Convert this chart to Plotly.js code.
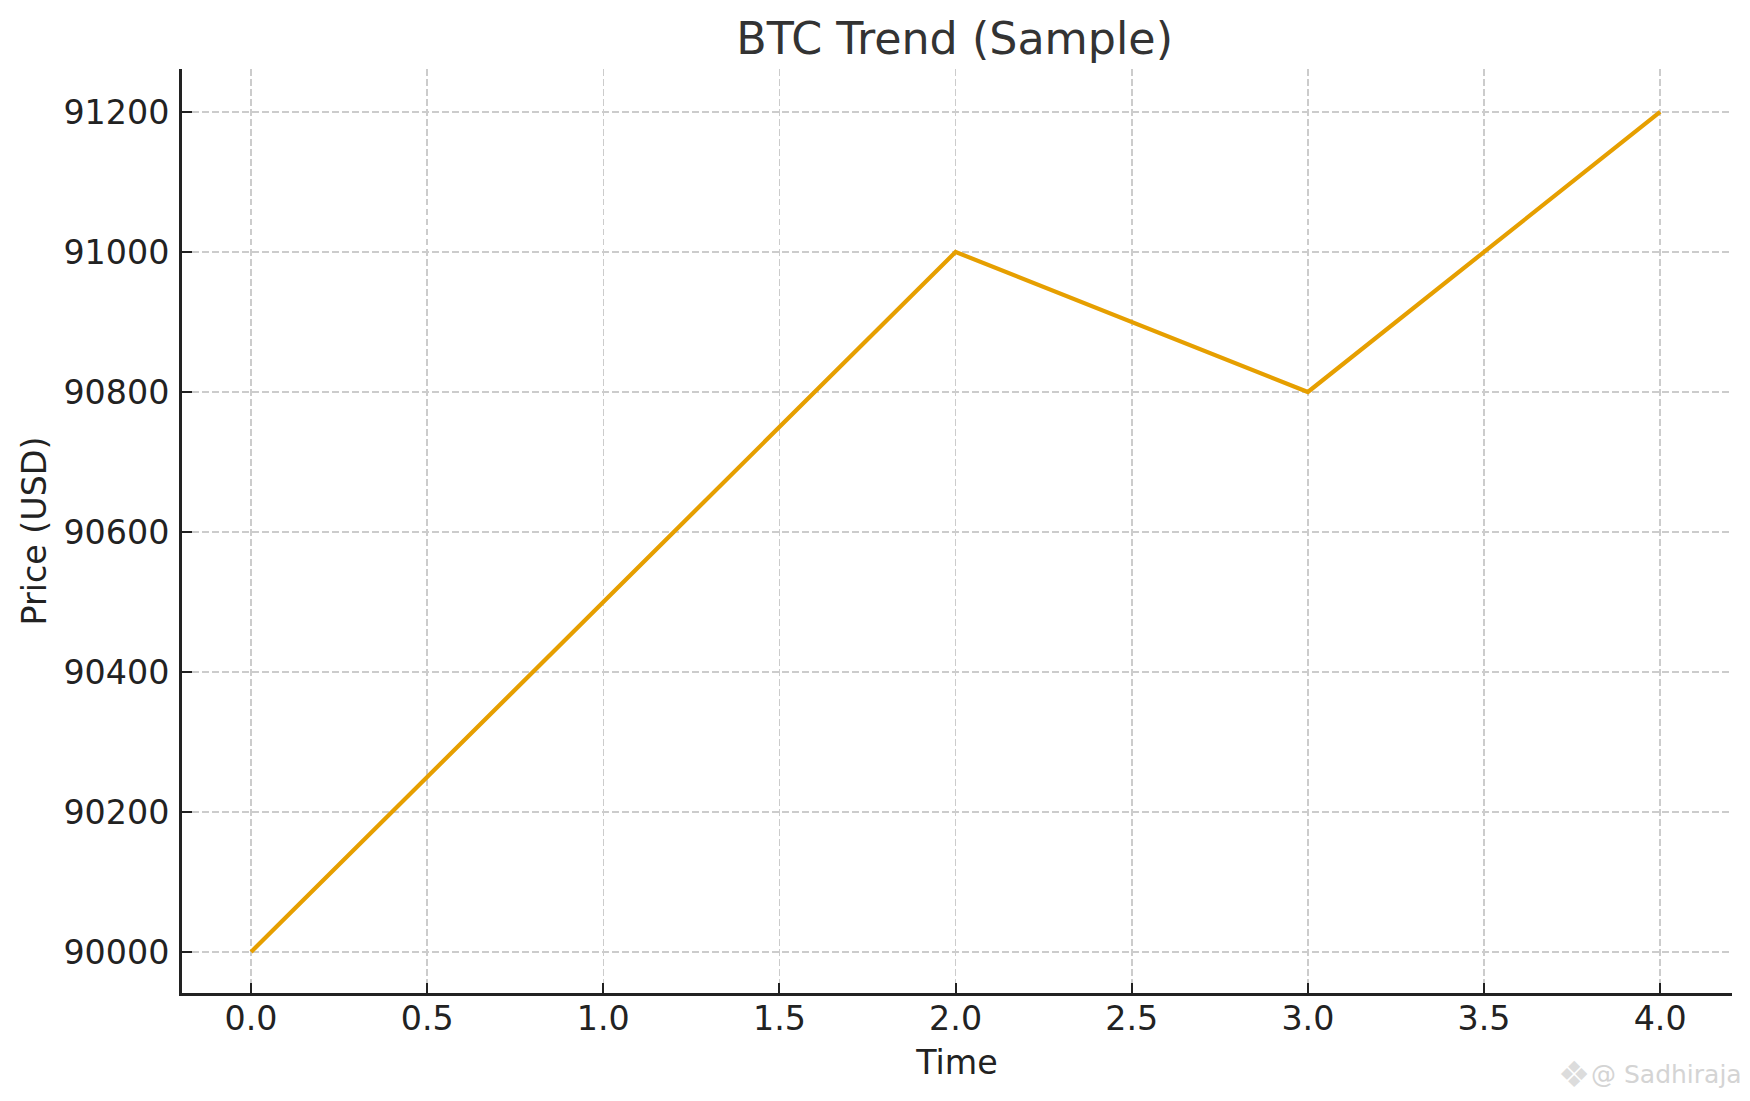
<!DOCTYPE html>
<html>
<head>
<meta charset="utf-8">
<script src="https://cdn.plot.ly/plotly-3.0.1.min.js"></script>
<style>html,body{margin:0;padding:0;background:#fff}</style>
</head>
<body>
<div id="chart" style="width:1750px;height:1101px"></div>
<script>
var times = [0, 1, 2, 3, 4];
var prices = [90000, 90500, 91000, 90800, 91200];
var xTicks = [0, 0.5, 1, 1.5, 2, 2.5, 3, 3.5, 4];
var xTickLabels = ['0.0', '0.5', '1.0', '1.5', '2.0', '2.5', '3.0', '3.5', '4.0'];
var yTicks = [90000, 90200, 90400, 90600, 90800, 91000, 91200];
var FONT = '"DejaVu Sans", sans-serif';
var axisCommon = {
  showgrid: true, gridcolor: '#cccccc', gridwidth: 1.6, griddash: '6.5px,3.5px',
  zeroline: false, showline: true, linecolor: '#222222', linewidth: 3,
  ticks: 'inside', ticklen: 10, tickwidth: 2, tickcolor: '#222222',
  tickfont: {family: FONT, size: 33.3, color: '#222222'}, tickmode: 'array'
};
var layout = {
  width: 1750, height: 1101,
  margin: {l: 182, r: 18, t: 69, b: 108},
  paper_bgcolor: '#ffffff', plot_bgcolor: '#ffffff',
  showlegend: false,
  title: {text: 'BTC Trend (Sample)', font: {family: FONT, size: 44.4, color: '#333333'},
          x: 0.5455, xanchor: 'center', y: 0.9655, yanchor: 'middle'},
  xaxis: Object.assign({}, axisCommon, {
    range: [-0.196, 4.204], tickvals: xTicks, ticktext: xTickLabels, ticklabelstandoff: -6,
    title: {text: 'Time', font: {family: FONT, size: 33.3, color: '#222222'}, standoff: 14}
  }),
  yaxis: Object.assign({}, axisCommon, {
    range: [89941.4, 91261.4], tickvals: yTicks, ticktext: yTicks.map(String), ticklabelstandoff: 3,
    title: {text: 'Price (USD)', font: {family: FONT, size: 33.3, color: '#222222'}, standoff: 7}
  }),
  annotations: [{
    text: '@ Sadhiraja', xref: 'paper', yref: 'paper', x: 1.008, y: -0.0887,
    xanchor: 'right', yanchor: 'middle', showarrow: false,
    font: {family: FONT, size: 25, color: '#d4d4d4'}
  }, {
    text: '❖', xref: 'paper', yref: 'paper', x: 0.898, y: -0.0887,
    xanchor: 'center', yanchor: 'middle', showarrow: false,
    font: {family: FONT, size: 36, color: '#dcdcdc'}
  }]
};
var trace = {
  x: times, y: prices, type: 'scatter', mode: 'lines',
  line: {color: '#E69F00', width: 4.2}, cliponaxis: false, hoverinfo: 'skip'
};
Plotly.newPlot('chart', [trace], layout, {displayModeBar: false, staticPlot: true});
</script>
</body>
</html>
